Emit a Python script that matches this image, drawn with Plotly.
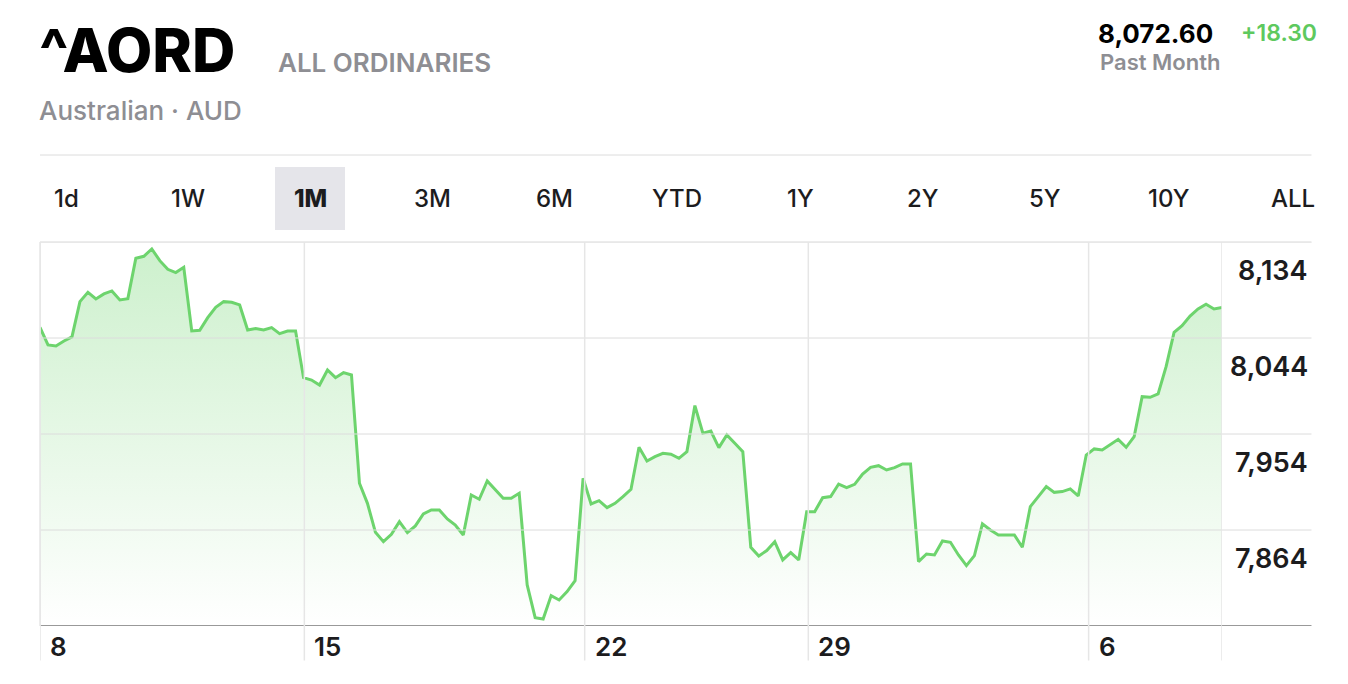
import plotly.graph_objects as go

# ^AORD, past month (evenly spaced samples)
prices = [
    8054.0, 8037.5, 8036.5, 8041.2, 8045.0, 8078.1, 8086.8, 8080.6, 8085.3, 8088.1,
    8079.7, 8080.9, 8118.7, 8120.6, 8127.5, 8116.5, 8108.4, 8105.3, 8110.3, 8050.6,
    8051.2, 8063.1, 8072.8, 8078.1, 8077.5, 8075.0, 8051.5, 8052.8, 8051.5, 8053.7,
    8048.1, 8050.6, 8050.6, 8006.8, 8004.6, 7999.9, 8014.0, 8006.8,
    8011.5, 8009.3, 7907.8, 7889.0, 7861.8, 7853.1, 7860.0, 7871.8, 7861.5, 7867.8,
    7879.0, 7882.8, 7882.8, 7874.3, 7868.7, 7859.3, 7896.8, 7892.8, 7910.0, 7901.5,
    7893.7, 7893.7, 7898.4, 7812.5, 7781.8, 7780.6, 7802.5, 7798.4, 7806.2, 7816.5,
    7912.5, 7888.4, 7891.5, 7885.0, 7889.0, 7895.3, 7902.2,
    7941.5, 7928.7, 7932.8, 7935.9, 7935.0, 7931.2, 7937.5, 7980.6, 7954.7, 7956.8,
    7941.2, 7953.1, 7945.3, 7937.5, 7847.8, 7839.7, 7844.7, 7853.1, 7835.9, 7842.8,
    7835.9, 7881.2, 7881.2, 7894.3, 7895.3, 7907.1, 7903.7, 7906.8, 7916.5, 7922.8,
    7924.3, 7920.3, 7922.5, 7925.9, 7925.9, 7834.3, 7841.5, 7840.6,
    7853.7, 7852.5, 7840.6, 7830.6, 7840.0, 7869.7, 7864.0, 7859.3, 7859.3, 7859.3,
    7847.8, 7885.9, 7895.3, 7904.7, 7899.3, 7900.0, 7902.5, 7895.9, 7934.3, 7940.0,
    7939.0, 7944.3, 7949.0, 7941.5, 7951.5, 7989.0, 7988.4, 7991.5, 8017.1, 8049.3,
    8055.6, 8064.6, 8071.2, 8075.6, 8071.2, 8072.5,
]
x = list(range(len(prices)))

day_ticks = [0, 33.1, 68.2, 96.2, 131.3]
day_labels = ["8", "15", "22", "29", "6"]
price_ticks = [8134, 8044, 7954, 7864]
tabs = ["1d", "1W", "1M", "3M", "6M", "YTD", "1Y", "2Y", "5Y", "10Y", "ALL"]
tab_x = [66, 188, 310, 432, 554, 677, 801, 923, 1045, 1169, 1293]

GREEN = "#6dd46d"
GRAY = "#8e8e93"
FONT = "Inter"
y_lo, y_hi = 7774, 8134
x_hi = len(prices) - 1

fig = go.Figure()
fig.add_trace(go.Scatter(
    x=x, y=prices, mode="lines",
    line=dict(color=GREEN, width=3),
    fill="tozeroy",
    fillgradient=dict(type="vertical", start=y_lo, stop=y_hi,
                      colorscale=[[0, "rgba(109,212,109,0.0)"],
                                  [1, "rgba(109,212,109,0.35)"]]),
    hoverinfo="skip",
))

shapes = []
# horizontal grid lines
for v in price_ticks:
    shapes.append(dict(type="line", xref="paper", yref="y", x0=0, x1=1.0757,
                       y0=v, y1=v, line=dict(color="#dcdcdc", width=1)))
# bottom axis
shapes.append(dict(type="line", xref="paper", yref="y", x0=0, x1=1.0757,
                   y0=y_lo, y1=y_lo, line=dict(color="#999999", width=2)))
# vertical day lines, running down into the label area
for t in day_ticks + [x_hi]:
    shapes.append(dict(type="line", xref="x", yref="paper", x0=t, x1=t,
                       y0=-0.09, y1=1, line=dict(color="#e6e6e6", width=1.5)))
# header separator
shapes.append(dict(type="line", xref="paper", yref="paper", x0=0, x1=1.0757,
                   y0=(626 - 155) / 384, y1=(626 - 155) / 384,
                   line=dict(color="#dcdcdc", width=1)))
# selected tab background
shapes.append(dict(type="rect", xref="paper", yref="paper", x0=(275 - 40) / 1182,
                   x1=(345 - 40) / 1182, y0=(626 - 230) / 384, y1=(626 - 167) / 384,
                   fillcolor="#e5e5ea", line=dict(width=0), layer="below"))

ann = []
for v in price_ticks:
    ann.append(dict(x=1.0745, xref="paper", y=v, yref="y", text=f"{v:,}",
                    showarrow=False, xanchor="right", yanchor="top", yshift=-10,
                    font=dict(size=27, color="#1c1c1e", family=FONT, weight=600)))
for t, lab in zip(day_ticks, day_labels):
    ann.append(dict(x=t, xref="x", y=0, yref="paper", text=lab, showarrow=False,
                    xanchor="left", yanchor="top", xshift=8, yshift=-3,
                    font=dict(size=26, color="#1c1c1e", family=FONT, weight=600)))
for tx, lab in zip(tab_x, tabs):
    ann.append(dict(x=(tx - 40) / 1182, xref="paper", y=(626 - 199) / 384, yref="paper",
                    text=lab, showarrow=False, xanchor="center", yanchor="middle",
                    font=dict(size=24, color="#1c1c1e", family=FONT,
                              weight=800 if lab == "1M" else 500)))


def px_ann(px, py, text, size, color, anchor="left", weight=500):
    ann.append(dict(x=(px - 40) / 1182, xref="paper", y=(626 - py) / 384, yref="paper",
                    text=text, showarrow=False, xanchor=anchor, yanchor="middle",
                    font=dict(size=size, color=color, family=FONT, weight=weight)))


px_ann(37, 50, "^AORD", 60, "#000000", weight=800)
px_ann(276, 62, "ALL ORDINARIES", 26, GRAY, weight=600)
px_ann(37, 110, "Australian · AUD", 26, GRAY, weight=500)
px_ann(1215, 33, "8,072.60", 26, "#000000", anchor="right", weight=700)
px_ann(1319, 33, "+18.30", 23, "#5ec95e", anchor="right", weight=600)
px_ann(1222, 62, "Past Month", 22, GRAY, anchor="right", weight=600)

# page body has an 8px offset, so the figure is 8px smaller and margins shifted
fig.update_layout(
    width=1340, height=676,
    margin=dict(l=32, r=126, t=234, b=58),
    paper_bgcolor="white", plot_bgcolor="white",
    showlegend=False,
    xaxis=dict(range=[0, x_hi], showgrid=False, zeroline=False, showticklabels=False,
               fixedrange=True),
    yaxis=dict(range=[y_lo, y_hi], showgrid=False, zeroline=False, showticklabels=False,
               fixedrange=True),
    shapes=shapes, annotations=ann,
)
fig.add_shape(type="line", xref="paper", yref="paper", x0=0, x1=1.0757, y0=1, y1=1,
              line=dict(color="#e6e6e6", width=1.5))
fig.add_shape(type="line", xref="paper", yref="paper", x0=0, x1=0, y0=0, y1=1,
              line=dict(color="#e6e6e6", width=1.5))

fig.write_html("out.html", config={"displayModeBar": False})
